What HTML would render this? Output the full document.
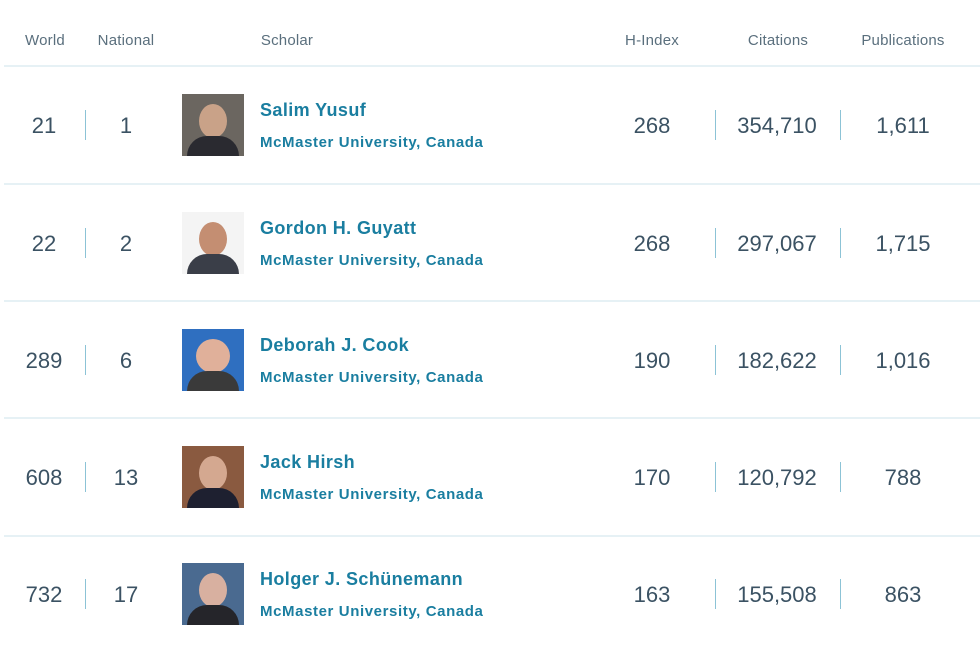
<!DOCTYPE html>
<html><head><style>
body{margin:0;width:980px;height:651px;background:#fff;font-family:"Liberation Sans",sans-serif;position:relative;overflow:hidden}
.a{position:absolute}
.h{top:32px;font-size:15px;color:#5a6f7d;transform:translateX(-50%);white-space:nowrap;letter-spacing:0.2px}
.line{left:4px;width:976px;height:2px;background:#e6f1f5}
.n{font-size:22px;color:#3b5263;transform:translate(-50%,-50%);white-space:nowrap;margin-top:1px}
.sep{width:1px;height:30px;background:#8cc3d6}
.nm{left:260px;font-size:18px;font-weight:bold;color:#1a7ea0;letter-spacing:0.4px}
.u{left:260px;font-size:15px;font-weight:bold;color:#1a7ea0;letter-spacing:0.6px}
.ph{left:182px;width:62px;height:62px;overflow:hidden}
.face{position:absolute;left:17px;top:10px;width:28px;height:34px;border-radius:50%;background:#c89a80}
.body{position:absolute;left:5px;top:42px;width:52px;height:30px;border-radius:20px 20px 0 0;background:#2a2a30}
</style></head><body>
<div class="a h" style="left:45px">World</div>
<div class="a h" style="left:126px">National</div>
<div class="a h" style="left:287px">Scholar</div>
<div class="a h" style="left:652px">H-Index</div>
<div class="a h" style="left:778px">Citations</div>
<div class="a h" style="left:903px">Publications</div>
<div class="a line" style="top:65px"></div>

<div class="a n" style="left:44px;top:125px">21</div><div class="a sep" style="left:85px;top:110px"></div><div class="a n" style="left:126px;top:125px">1</div>
<div class="a ph" style="top:94px;background:#6b6660"><div class="face" style="background:#c9a288"></div><div class="body"></div></div>
<div class="a nm" style="top:100px">Salim Yusuf</div><div class="a u" style="top:134px">McMaster University, Canada</div>
<div class="a n" style="left:652px;top:125px">268</div><div class="a sep" style="left:715px;top:110px"></div><div class="a n" style="left:777px;top:125px">354,710</div><div class="a sep" style="left:840px;top:110px"></div><div class="a n" style="left:903px;top:125px">1,611</div>
<div class="a line" style="top:183px"></div>

<div class="a n" style="left:44px;top:243px">22</div><div class="a sep" style="left:85px;top:228px"></div><div class="a n" style="left:126px;top:243px">2</div>
<div class="a ph" style="top:212px;background:#f4f4f4"><div class="face" style="background:#c48e72"></div><div class="body" style="background:#3a3e48"></div></div>
<div class="a nm" style="top:218px">Gordon H. Guyatt</div><div class="a u" style="top:252px">McMaster University, Canada</div>
<div class="a n" style="left:652px;top:243px">268</div><div class="a sep" style="left:715px;top:228px"></div><div class="a n" style="left:777px;top:243px">297,067</div><div class="a sep" style="left:840px;top:228px"></div><div class="a n" style="left:903px;top:243px">1,715</div>
<div class="a line" style="top:300px"></div>

<div class="a n" style="left:44px;top:360px">289</div><div class="a sep" style="left:85px;top:345px"></div><div class="a n" style="left:126px;top:360px">6</div>
<div class="a ph" style="top:329px;background:#2f6fc0"><div class="face" style="background:#e0b09a;left:14px;width:34px"></div><div class="body" style="background:#3a3a3a"></div></div>
<div class="a nm" style="top:335px">Deborah J. Cook</div><div class="a u" style="top:369px">McMaster University, Canada</div>
<div class="a n" style="left:652px;top:360px">190</div><div class="a sep" style="left:715px;top:345px"></div><div class="a n" style="left:777px;top:360px">182,622</div><div class="a sep" style="left:840px;top:345px"></div><div class="a n" style="left:903px;top:360px">1,016</div>
<div class="a line" style="top:417px"></div>

<div class="a n" style="left:44px;top:477px">608</div><div class="a sep" style="left:85px;top:462px"></div><div class="a n" style="left:126px;top:477px">13</div>
<div class="a ph" style="top:446px;background:#8a5a40"><div class="face" style="background:#d4a890"></div><div class="body" style="background:#1e2030"></div></div>
<div class="a nm" style="top:452px">Jack Hirsh</div><div class="a u" style="top:486px">McMaster University, Canada</div>
<div class="a n" style="left:652px;top:477px">170</div><div class="a sep" style="left:715px;top:462px"></div><div class="a n" style="left:777px;top:477px">120,792</div><div class="a sep" style="left:840px;top:462px"></div><div class="a n" style="left:903px;top:477px">788</div>
<div class="a line" style="top:535px"></div>

<div class="a n" style="left:44px;top:594px">732</div><div class="a sep" style="left:85px;top:579px"></div><div class="a n" style="left:126px;top:594px">17</div>
<div class="a ph" style="top:563px;background:#4a6a90"><div class="face" style="background:#d8b0a0"></div><div class="body" style="background:#25252a"></div></div>
<div class="a nm" style="top:569px">Holger J. Schünemann</div><div class="a u" style="top:603px">McMaster University, Canada</div>
<div class="a n" style="left:652px;top:594px">163</div><div class="a sep" style="left:715px;top:579px"></div><div class="a n" style="left:777px;top:594px">155,508</div><div class="a sep" style="left:840px;top:579px"></div><div class="a n" style="left:903px;top:594px">863</div>
</body></html>
